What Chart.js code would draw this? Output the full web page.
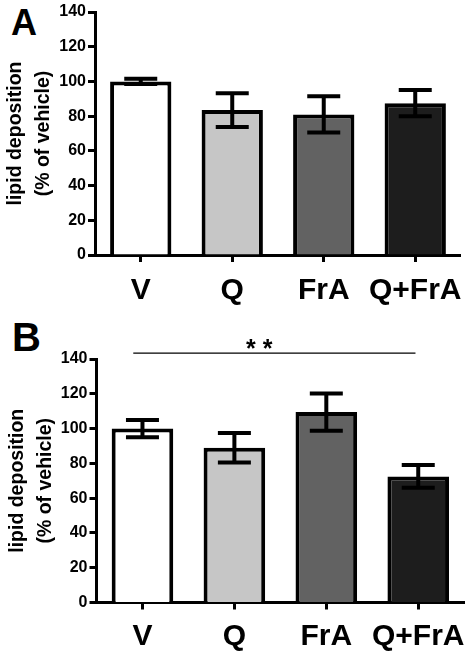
<!DOCTYPE html>
<html>
<head>
<meta charset="utf-8">
<script src="https://cdn.jsdelivr.net/npm/chart.js@4.4.1/dist/chart.umd.min.js"></script>
<style>
html, body { margin: 0; padding: 0; background: #fff; }
body { width: 474px; height: 653px; position: relative; overflow: hidden; font-family: "Liberation Sans", Arial, sans-serif; }
.panel { position: absolute; left: 0; }
.letter { position: absolute; font-weight: bold; line-height: 1; color: #000; }
</style>
</head>
<body>
<div class="letter" style="left:11px; top:5px; font-size:36px;">A</div>
<div class="panel" style="top:0; width:474px; height:310px;"><canvas id="chartA" width="474" height="310" style="width:474px;height:310px"></canvas></div>
<div class="letter" style="left:12px; top:317px; font-size:40px;">B</div>
<div class="panel" style="top:310px; width:474px; height:343px;"><canvas id="chartB" width="474" height="343" style="width:474px;height:343px"></canvas></div>
<script>
// groups on the x axis
const categories = ['V', 'Q', 'FrA', 'Q+FrA'];
// panel A: mean and error (SEM) per group
const meansA = [100, 83.5, 81, 87.5];
const errorsA = [1.5, 9.7, 10.4, 7.5];
// panel B
const meansB = [100, 89, 109.5, 72.5];
const errorsB = [5, 8.5, 10.7, 6.5];
// fill of each bar
const barColors = ['#ffffff', '#c6c6c6', '#626262', '#1d1d1d'];
// y axis
const yMin = 0;
const yMax = 140;
const yStep = 20;
const yTitle = ['lipid deposition', '(% of vehicle)'];
// significance bracket in panel B
const sigLabelB = '* *';

const FONT = '"Liberation Sans", Arial, sans-serif';

// draws the error bars on top of each bar
const errorBars = {
    id: 'errorBars',
    afterDatasetsDraw(chart) {
        const ctx = chart.ctx;
        const y = chart.scales.y;
        const ds = chart.data.datasets[0];
        const meta = chart.getDatasetMeta(0);
        ctx.save();
        ctx.strokeStyle = '#000';
        ctx.lineWidth = 4;
        meta.data.forEach((bar, i) => {
            const top = y.getPixelForValue(ds.data[i] + ds.errors[i]);
            const bot = y.getPixelForValue(ds.data[i] - ds.errors[i]);
            const half = 16.5;
            ctx.beginPath();
            ctx.moveTo(bar.x, top); ctx.lineTo(bar.x, bot);
            ctx.moveTo(bar.x - half, top); ctx.lineTo(bar.x + half, top);
            ctx.moveTo(bar.x - half, bot); ctx.lineTo(bar.x + half, bot);
            ctx.stroke();
        });
        ctx.restore();
    }
};

// draws the line with the star label above panel B
const sigLine = {
    id: 'sigLine',
    afterDraw(chart, args, opts) {
        if (!opts.label) return;
        const ctx = chart.ctx;
        const x = chart.scales.x, y = chart.scales.y;
        const ly = y.getPixelForValue(opts.value);
        ctx.save();
        ctx.strokeStyle = '#000';
        ctx.lineWidth = 1.2;
        ctx.beginPath();
        ctx.moveTo(x.getPixelForValue(opts.from), ly);
        ctx.lineTo(x.getPixelForValue(opts.to), ly);
        ctx.stroke();
        ctx.fillStyle = '#000';
        ctx.font = 'bold 25px ' + FONT;
        ctx.textAlign = 'center';
        ctx.textBaseline = 'alphabetic';
        ctx.fillText(opts.label, x.getPixelForValue(opts.textAt), ly + 4);
        ctx.restore();
    }
};

function makeChart(id, means, errors, lay) {
    const ctx = document.getElementById(id).getContext('2d');
    return new Chart(ctx, {
        type: 'bar',
        data: {
            labels: categories,
            datasets: [{
                data: means,
                errors: errors,
                backgroundColor: barColors,
                borderColor: '#000',
                borderWidth: 4,
                borderSkipped: 'start',
                barPercentage: 0.67,
                categoryPercentage: 1
            }]
        },
        options: {
            responsive: false,
            animation: false,
            events: [],
            layout: { padding: { left: 0, right: lay.right, top: lay.top, bottom: 0 } },
            plugins: {
                legend: { display: false },
                tooltip: { enabled: false },
                sigLine: lay.sig || {}
            },
            scales: {
                x: {
                    offset: true,
                    grid: { offset: false, drawOnChartArea: false, color: '#000', tickLength: 7, tickWidth: 3 },
                    border: { color: '#000', width: 3 },
                    ticks: {
                        color: '#000', padding: lay.labelPad,
                        autoSkip: false, maxRotation: 0, minRotation: 0,
                        font: { family: FONT, size: 30, weight: 'bold' }
                    },
                    afterFit(scale) { scale.height = lay.xHeight; }
                },
                y: {
                    min: yMin,
                    max: yMax,
                    grid: { drawOnChartArea: false, color: '#000', tickLength: 7, tickWidth: 3 },
                    border: { color: '#000', width: 3 },
                    ticks: { stepSize: yStep, color: '#000', padding: 2, font: { family: FONT, size: 16, weight: 'bold' } },
                    title: {
                        display: true,
                        text: yTitle,
                        color: '#000',
                        padding: { top: lay.titlePad, bottom: 0 },
                        font: { family: FONT, size: 19.5, weight: 'bold', lineHeight: 1.42 }
                    },
                    afterFit(scale) { scale.width = lay.yWidth; }
                }
            }
        },
        plugins: [errorBars, sigLine]
    });
}

makeChart('chartA', meansA, errorsA, { right: 12, top: 12, xHeight: 55, yWidth: 95, labelPad: 11, titlePad: 2 });
makeChart('chartB', meansB, errorsB, {
    right: 4, top: 49, xHeight: 50.5, yWidth: 96.5, labelPad: 9, titlePad: 4,
    sig: { from: -0.1, to: 2.97, textAt: 1.27, value: 143.4, label: sigLabelB }
});
</script>
</body>
</html>
